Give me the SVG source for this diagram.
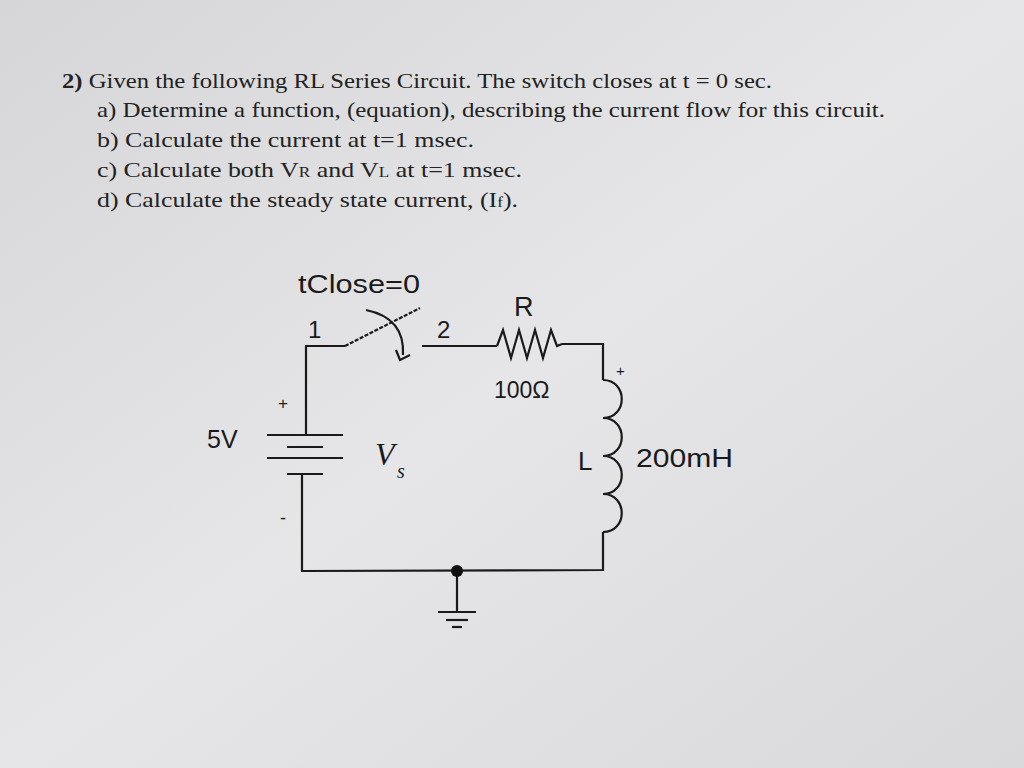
<svg xmlns="http://www.w3.org/2000/svg" width="1024" height="768" viewBox="0 0 1024 768">
<defs>
<linearGradient id="bg" x1="0" y1="0" x2="1" y2="1">
<stop offset="0" stop-color="#d6d6d8"/><stop offset="0.5" stop-color="#e6e6e8"/><stop offset="1" stop-color="#d9d9db"/>
</linearGradient>
</defs>
<style>
.q{font-family:"Liberation Serif",serif;font-size:21px;fill:#222}
.s{font-family:"Liberation Sans",sans-serif;fill:#1a1a1a}
.w{fill:none;stroke:#1a1a1a;stroke-width:2.2}
</style>
<rect width="1024" height="768" fill="url(#bg)"/>
<g id="question">
<text class="q" x="62" y="88" textLength="710" lengthAdjust="spacingAndGlyphs"><tspan font-weight="bold">2)</tspan> Given the following RL Series Circuit. The switch closes at t = 0 sec.</text>
<text class="q" x="97" y="117" textLength="788" lengthAdjust="spacingAndGlyphs">a)  Determine a function, (equation), describing the current flow for this circuit.</text>
<text class="q" x="97" y="147" textLength="377" lengthAdjust="spacingAndGlyphs">b)  Calculate the current at t=1 msec.</text>
<text class="q" x="97" y="177" textLength="425" lengthAdjust="spacingAndGlyphs">c)  Calculate both V<tspan font-size="14">R</tspan> and V<tspan font-size="14">L</tspan> at t=1 msec.</text>
<text class="q" x="97" y="207" textLength="421" lengthAdjust="spacingAndGlyphs">d)  Calculate the steady state current, (I<tspan font-size="14">f</tspan>).</text>
</g>
<g id="connectors">
<polyline class="w" points="306,435 306,346 345,346"/>
<line class="w" x1="345" y1="346" x2="420" y2="308" stroke-dasharray="4,1.5"/>
<polyline class="w" points="422,346 497,346"/>
<polyline class="w" points="562,344 603,344 603,380"/>
<polyline class="w" points="603,532 603,570 302,571 302,474"/>
<line class="w" x1="457" y1="571" x2="457" y2="612"/>
</g>
<g id="switch">
<path class="w" d="M366,310 Q405,318 403,355" stroke-width="1.6"/>
<path class="w" d="M396,350 L400,360 L410,355" stroke-width="1.6"/>
<text class="s" x="298" y="293" font-size="25" textLength="122" lengthAdjust="spacingAndGlyphs">tClose=0</text>
<text class="s" x="308" y="338" font-size="24">1</text>
<text class="s" x="437" y="338" font-size="24">2</text>
</g>
<g id="resistor">
<polyline class="w" points="497,346 503,330 511,358 519,330 527,358 535,330 543,358 551,330 557,346 562,344"/>
<text class="s" x="514" y="316" font-size="27">R</text>
<text class="s" x="494" y="398" font-size="23">100Ω</text>
</g>
<g id="inductor">
<path class="w" d="M603,380 C628,380 628,418 603,418 C628,418 628,456 603,456 C628,456 628,494 603,494 C628,494 628,532 603,532"/>
<text class="s" x="616" y="376" font-size="15">+</text>
<text class="s" x="578" y="470" font-size="26">L</text>
<text class="s" x="636" y="467" font-size="26" textLength="97" lengthAdjust="spacingAndGlyphs">200mH</text>
</g>
<g id="source">
<line class="w" x1="267" y1="435" x2="343" y2="435"/>
<line class="w" x1="287" y1="447" x2="323" y2="447"/>
<line class="w" x1="267" y1="458" x2="343" y2="458"/>
<line class="w" x1="287" y1="474" x2="323" y2="474"/>
<text class="s" x="207" y="448" font-size="25">5V</text>
<text class="s" x="278" y="409" font-size="17">+</text>
<text class="s" x="280" y="524" font-size="18">-</text>
<text x="375" y="465" font-family="Liberation Serif,serif" font-style="italic" font-size="32" fill="#1a1a1a">V</text>
<text x="397" y="478" font-family="Liberation Serif,serif" font-style="italic" font-size="20" fill="#1a1a1a">s</text>
</g>
<g id="ground">
<circle cx="457" cy="571" r="6" fill="#111"/>
<line class="w" x1="438" y1="612" x2="476" y2="612"/>
<line class="w" x1="446" y1="620" x2="468" y2="620"/>
<line class="w" x1="452" y1="627" x2="462" y2="627"/>
</g>
</svg>
